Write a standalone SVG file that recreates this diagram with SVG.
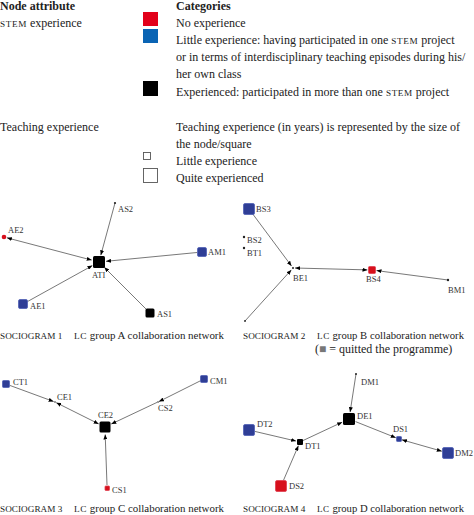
<svg xmlns="http://www.w3.org/2000/svg" width="474" height="515" viewBox="0 0 474 515">
<style>
text{font-family:"Liberation Serif","Times New Roman",serif;fill:#222}
.t{font-size:12px}
.c{font-size:10.8px}
.b{font-weight:bold}
.sc{font-size:9.2px;letter-spacing:0.6px}
.lb{font-size:8.5px;fill:#333}
.e{stroke:#555;stroke-width:0.8;fill:none}
.blue{fill:#2F3E96;stroke:#4F5FB5;stroke-width:0.8}
.red{fill:#D7101C;stroke:#E04050;stroke-width:0.8}
.blk{fill:#000}
.dot{fill:#222}
</style>
<defs>
<marker id="ah" viewBox="0 0 5 4" refX="5" refY="2" markerWidth="5" markerHeight="4" markerUnits="userSpaceOnUse" orient="auto-start-reverse">
<path d="M0,0 L5,2 L0,4 z" fill="#000"/>
</marker>
</defs>

<g id="legend">
<text class="t b" x="0" y="10">Node attribute</text>
<text class="t" x="0" y="27"><tspan class="sc">STEM</tspan> experience</text>
<text class="t b" x="176" y="10">Categories</text>
<rect x="143" y="12" width="15" height="14" fill="#E2001A"/>
<rect x="143" y="29" width="15" height="14" fill="#0A64B4"/>
<rect x="143" y="81" width="15" height="15" fill="#000"/>
<text class="t" x="176" y="27">No experience</text>
<text class="t" x="176" y="44">Little experience: having participated in one <tspan class="sc">STEM</tspan> project</text>
<text class="t" x="176" y="61">or in terms of interdisciplinary teaching episodes during his/</text>
<text class="t" x="176" y="78">her own class</text>
<text class="t" x="176" y="96">Experienced: participated in more than one <tspan class="sc">STEM</tspan> project</text>
<text class="t" x="0" y="131">Teaching experience</text>
<text class="t" x="176" y="131">Teaching experience (in years) is represented by the size of</text>
<text class="t" x="176" y="148">the node/square</text>
<rect x="143.5" y="152.5" width="7" height="7" fill="#fff" stroke="#555" stroke-width="0.9"/>
<text class="t" x="176" y="165">Little experience</text>
<rect x="143.5" y="168.5" width="14" height="14" fill="#fff" stroke="#555" stroke-width="0.9"/>
<text class="t" x="176" y="182">Quite experienced</text>
</g>

<g id="connectors">
<!-- sociogram 1 -->
<line class="e" x1="115" y1="203" x2="100.8" y2="255.2" marker-end="url(#ah)"/>
<line class="e" x1="6.9" y1="237.8" x2="91.7" y2="260.1" marker-start="url(#ah)" marker-end="url(#ah)"/>
<line class="e" x1="197" y1="252.5" x2="106" y2="261.3" marker-end="url(#ah)"/>
<line class="e" x1="27.4" y1="301.6" x2="92.4" y2="265.6" marker-end="url(#ah)"/>
<line class="e" x1="146.5" y1="309.5" x2="104.3" y2="267.3" marker-end="url(#ah)"/>
<!-- sociogram 2 -->
<line class="e" x1="252.6" y1="213.8" x2="291.5" y2="266" marker-end="url(#ah)"/>
<line class="e" x1="245" y1="321" x2="291.3" y2="269.9" marker-end="url(#ah)"/>
<line class="e" x1="295" y1="268" x2="367.5" y2="269.9" marker-start="url(#ah)" marker-end="url(#ah)"/>
<line class="e" x1="448" y1="280" x2="376.5" y2="270.6" marker-end="url(#ah)"/>
<!-- sociogram 3 -->
<line class="e" x1="9.8" y1="385.4" x2="53.6" y2="401.5" marker-end="url(#ah)"/>
<line class="e" x1="56.3" y1="402.7" x2="98.7" y2="423.9" marker-start="url(#ah)" marker-end="url(#ah)"/>
<line class="e" x1="200.4" y1="380.8" x2="158.9" y2="401.6" marker-end="url(#ah)"/>
<line class="e" x1="157" y1="402.4" x2="111.3" y2="424" marker-end="url(#ah)"/>
<line class="e" x1="107" y1="485" x2="105.2" y2="434.5" marker-end="url(#ah)"/>
<!-- sociogram 4 -->
<line class="e" x1="356" y1="374" x2="350.1" y2="412.1" marker-end="url(#ah)"/>
<line class="e" x1="254.8" y1="431.4" x2="296.1" y2="441.1" marker-end="url(#ah)"/>
<line class="e" x1="283.4" y1="480.5" x2="298.4" y2="445.7" marker-end="url(#ah)"/>
<line class="e" x1="302.7" y1="440.7" x2="342.2" y2="422.2" marker-end="url(#ah)"/>
<line class="e" x1="355.5" y1="421.6" x2="395.8" y2="437.7" marker-end="url(#ah)"/>
<line class="e" x1="401.9" y1="439.8" x2="441.8" y2="451.2" marker-start="url(#ah)" marker-end="url(#ah)"/>
</g>

<!-- Sociogram 1 nodes -->
<g id="ATI"><rect class="blk" x="93" y="256" width="12" height="12" rx="1.5"/><text class="lb" x="92" y="278">ATI</text></g>
<g id="AS2"><circle class="dot" cx="115" cy="203" r="1.1"/><text class="lb" x="118" y="212">AS2</text></g>
<g id="AE2"><circle cx="4" cy="237" r="2.3" fill="#D7101C"/><text class="lb" x="8" y="233">AE2</text></g>
<g id="AM1"><rect class="blue" x="197.5" y="247.5" width="9" height="9" rx="1.5"/><text class="lb" x="208" y="255">AM1</text></g>
<g id="AE1"><rect class="blue" x="18.5" y="299.5" width="9" height="9" rx="1.5"/><text class="lb" x="30" y="309">AE1</text></g>
<g id="AS1"><rect class="blk" x="145.5" y="308.5" width="9" height="9" rx="1.5"/><text class="lb" x="157" y="317">AS1</text></g>
<g id="caption1">
<text class="sc" x="0" y="339" textLength="63" lengthAdjust="spacing">SOCIOGRAM 1</text>
<text class="c" x="74" y="339" textLength="150" lengthAdjust="spacingAndGlyphs"><tspan class="sc">LC</tspan> group A collaboration network</text>
</g>

<!-- Sociogram 2 nodes -->
<g id="BS3"><rect class="blue" x="243.5" y="203.5" width="11" height="11" rx="1.5"/><text class="lb" x="256" y="212">BS3</text></g>
<g id="BS2"><circle class="dot" cx="244" cy="237" r="1.2"/><text class="lb" x="247" y="243">BS2</text></g>
<g id="BT1"><circle class="dot" cx="244" cy="248" r="1.2"/><text class="lb" x="247" y="256">BT1</text></g>
<g id="BE1"><circle class="dot" cx="293" cy="268" r="1"/><text class="lb" x="293" y="281">BE1</text></g>
<g id="B0"><circle class="dot" cx="245" cy="321" r="0.9"/></g>
<g id="BS4"><rect class="red" x="368.5" y="266.5" width="7" height="7" rx="1"/><text class="lb" x="366" y="282">BS4</text></g>
<g id="BM1"><circle class="dot" cx="448" cy="280" r="1.2"/><text class="lb" x="448" y="293">BM1</text></g>
<g id="caption2">
<text class="sc" x="243" y="339" textLength="63" lengthAdjust="spacing">SOCIOGRAM 2</text>
<text class="c" x="317" y="339" textLength="147" lengthAdjust="spacingAndGlyphs"><tspan class="sc">LC</tspan> group B collaboration network</text>
<text class="t" x="315" y="353">(<tspan fill="#777">■</tspan> = quitted the programme)</text>
</g>

<!-- Sociogram 3 nodes -->
<g id="CT1"><rect class="blue" x="2.5" y="380.5" width="7" height="7" rx="1"/><text class="lb" x="13" y="385">CT1</text></g>
<g id="CE1"><circle class="dot" cx="55" cy="402" r="0.8"/><text class="lb" x="57" y="400">CE1</text></g>
<g id="CE2"><rect class="blk" x="99.5" y="421.5" width="11" height="11" rx="1.5"/><text class="lb" x="98" y="418">CE2</text></g>
<g id="CM1"><rect class="blue" x="200.5" y="375.5" width="7" height="7" rx="1"/><text class="lb" x="210" y="384">CM1</text></g>
<g id="CS2"><circle class="dot" cx="158" cy="402" r="0.8"/><text class="lb" x="158" y="411">CS2</text></g>
<g id="CS1"><rect class="red" x="105" y="486" width="4.5" height="4.5" rx="0.8"/><text class="lb" x="112" y="493">CS1</text></g>
<g id="caption3">
<text class="sc" x="0" y="512" textLength="63" lengthAdjust="spacing">SOCIOGRAM 3</text>
<text class="c" x="74" y="512" textLength="150" lengthAdjust="spacingAndGlyphs"><tspan class="sc">LC</tspan> group C collaboration network</text>
</g>

<!-- Sociogram 4 nodes -->
<g id="DM1"><circle class="dot" cx="356" cy="374" r="1"/><text class="lb" x="361" y="385">DM1</text></g>
<g id="DE1"><rect class="blk" x="343" y="413" width="12" height="12" rx="1.5"/><text class="lb" x="357" y="419">DE1</text></g>
<g id="DT2"><rect class="blue" x="243.5" y="424.5" width="11" height="11" rx="1.5"/><text class="lb" x="257" y="427">DT2</text></g>
<g id="DT1"><rect class="blk" x="297" y="439" width="6" height="6" rx="1"/><text class="lb" x="305" y="449">DT1</text></g>
<g id="DS1"><rect class="blue" x="396.5" y="436.5" width="5" height="5" rx="0.8"/><text class="lb" x="393" y="432">DS1</text></g>
<g id="DM2"><rect class="blue" x="442.5" y="447.5" width="11" height="11" rx="1.5"/><text class="lb" x="455" y="456">DM2</text></g>
<g id="DS2"><rect class="red" x="275.5" y="480.5" width="11" height="11" rx="1.5"/><text class="lb" x="289" y="489">DS2</text></g>
<g id="caption4">
<text class="sc" x="243" y="512" textLength="63" lengthAdjust="spacing">SOCIOGRAM 4</text>
<text class="c" x="317" y="512" textLength="147" lengthAdjust="spacingAndGlyphs"><tspan class="sc">LC</tspan> group D collaboration network</text>
</g>
</svg>
